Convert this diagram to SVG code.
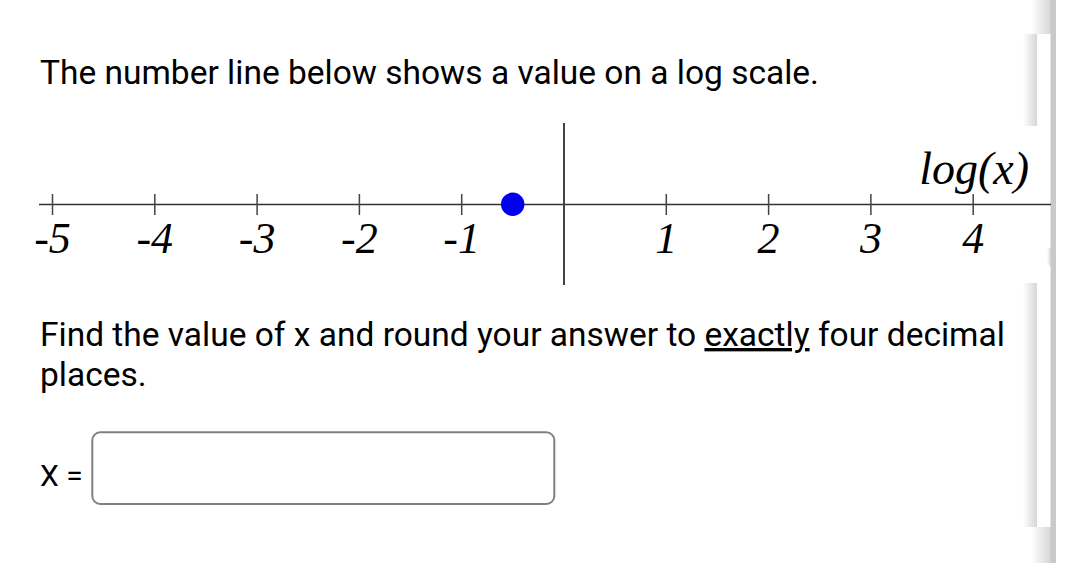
<svg xmlns="http://www.w3.org/2000/svg" width="1080" height="563" viewBox="0 0 1080 563">
<style>
.body{font-family:Roboto,"Liberation Sans",sans-serif;font-size:33.5px;fill:#000}
.lbl{font-family:"Liberation Serif",serif;font-style:italic;font-size:44px;fill:#000;text-anchor:middle}
.tick{stroke:#444;stroke-width:1.5}
.axis{stroke:#333;stroke-width:1.5;fill:none}
</style>
<defs>
<linearGradient id="g1" x1="0" y1="0" x2="1" y2="0">
<stop offset="0" stop-color="#ffffff"/>
<stop offset="1" stop-color="#d6d6d6"/>
</linearGradient>
</defs>
<rect width="1080" height="563" fill="#ffffff"/>
<g id="scrollbars">
<rect x="1023" y="34" width="14" height="92" fill="url(#g1)"/>
<rect x="1023" y="283" width="14" height="244" fill="url(#g1)"/>
<rect x="1031" y="0" width="20" height="34" fill="url(#g1)"/>
<rect x="1031" y="527" width="20" height="36" fill="url(#g1)"/>
<path d="M1051.5 246.7 A5 10 0 0 0 1051.5 266.7 Z" fill="url(#g1)"/>
<rect x="1050.5" y="0" width="5.5" height="563" fill="#c9c9c9"/>
</g>
<g id="title">
<text class="body" x="40" y="84">The number line below shows a value on a log scale.</text>
</g>
<g id="numberline">
<line class="axis" x1="39" y1="204.5" x2="1051" y2="204.5"/>
<line x1="564" y1="123" x2="564" y2="285" stroke="#444" stroke-width="2"/>
<g class="tick">
<line x1="52.5" y1="194" x2="52.5" y2="215"/>
<line x1="154.8" y1="194" x2="154.8" y2="215"/>
<line x1="257.1" y1="194" x2="257.1" y2="215"/>
<line x1="359.4" y1="194" x2="359.4" y2="215"/>
<line x1="461.7" y1="194" x2="461.7" y2="215"/>
<line x1="666.3" y1="194" x2="666.3" y2="215"/>
<line x1="768.6" y1="194" x2="768.6" y2="215"/>
<line x1="870.9" y1="194" x2="870.9" y2="215"/>
<line x1="973.2" y1="194" x2="973.2" y2="215"/>
</g>
<text class="lbl" x="52.5" y="253">-5</text>
<text class="lbl" x="154.8" y="253">-4</text>
<text class="lbl" x="257.1" y="253">-3</text>
<text class="lbl" x="359.4" y="253">-2</text>
<text class="lbl" x="461.7" y="253">-1</text>
<text class="lbl" x="666.3" y="253">1</text>
<text class="lbl" x="768.6" y="253">2</text>
<text class="lbl" x="870.9" y="253">3</text>
<text class="lbl" x="973.2" y="253">4</text>
<text x="1029" y="184" font-family="'Liberation Serif',serif" font-style="italic" font-size="46" text-anchor="end" fill="#000">log(x)</text>
</g>
<g id="point">
<circle cx="512.7" cy="204.3" r="11.7" fill="#0000ee"/>
</g>
<g id="question">
<text class="body" x="40" y="346">Find the value of x and round your answer to <tspan text-decoration="underline">exactly</tspan> four decimal</text>
<text class="body" x="40" y="386">places.</text>
</g>
<g id="answer">
<text x="40" y="486" font-family="Roboto,'Liberation Sans',sans-serif" font-size="30" fill="#000">X =</text>
<rect x="92.3" y="432.3" width="462" height="71.7" rx="8" fill="#fff" stroke="#808080" stroke-width="2"/>
</g>
</svg>
